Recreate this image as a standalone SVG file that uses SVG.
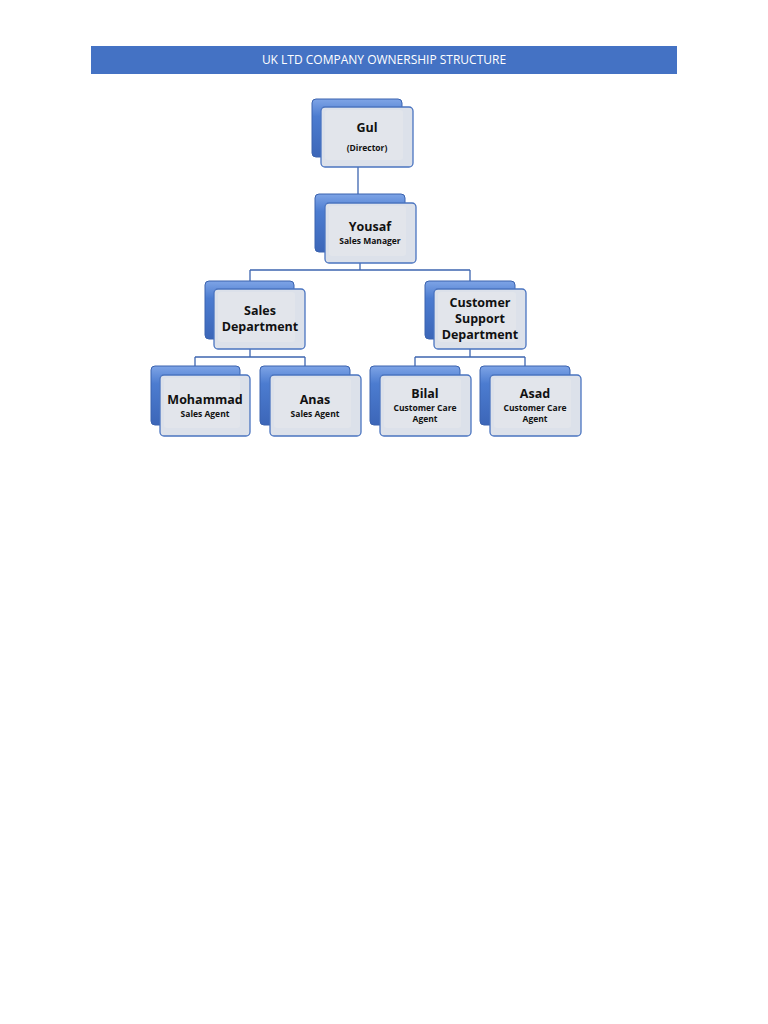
<svg xmlns="http://www.w3.org/2000/svg" width="768" height="1024" viewBox="0 0 768 1024">
<defs>
<linearGradient id="bk" x1="0" y1="0" x2="0" y2="1"><stop offset="0" stop-color="#7EA4E6"/><stop offset="0.3" stop-color="#4C7CD0"/><stop offset="1" stop-color="#3C66B8"/></linearGradient>
<style>
.bk{fill:url(#bk);stroke:#3A62AE;stroke-width:1}
.fr{fill:#DCE1EA;stroke:#4A74C0;stroke-width:1.3}
.in{fill:#E2E5EB;stroke:none}
.cn{fill:none;stroke:#3E66B0;stroke-width:1.3}
.t{font-family:"Open Sans","Liberation Sans",sans-serif;font-weight:bold;fill:#111;text-anchor:middle}
.n{font-size:12.5px}.s{font-size:8.5px}
</style>
</defs>
<rect width="768" height="1024" fill="#fff"/>
<rect x="91" y="46" width="586" height="28" fill="#4472C4"/>
<text x="384" y="64" font-family="'Open Sans','Liberation Sans',sans-serif" font-size="12" fill="#fff" text-anchor="middle">UK LTD COMPANY OWNERSHIP STRUCTURE</text>
<g id="connectors">
<path class="cn" d="M358 167V203M360 263V270M250 270H470M250 270V289M470 270V289M250 349V357M195 357H305M195 357V375M305 357V375M470 349V357M415 357H525M415 357V375M525 357V375"/>
</g>
<g id="gul"><rect class="bk" x="312" y="99" width="90" height="58" rx="4"/><rect class="fr" x="321" y="107" width="92" height="60" rx="4"/><rect class="in" x="325" y="110" width="78" height="50" rx="3"/><text class="t n" x="367" y="132">Gul</text><text class="t s" x="367" y="151">(Director)</text></g>
<g id="yousaf"><rect class="bk" x="315" y="194" width="90" height="58" rx="4"/><rect class="fr" x="325" y="203" width="91" height="60" rx="4"/><rect class="in" x="329" y="206" width="77" height="50" rx="3"/><text class="t n" x="370" y="231">Yousaf</text><text class="t s" x="370" y="244">Sales Manager</text></g>
<g id="sales"><rect class="bk" x="205" y="281" width="89" height="58" rx="4"/><rect class="fr" x="214" y="289" width="91" height="60" rx="4"/><rect class="in" x="218" y="292" width="77" height="50" rx="3"/><text class="t n" x="260" y="315">Sales</text><text class="t n" x="260" y="331">Department</text></g>
<g id="support"><rect class="bk" x="425" y="281" width="90" height="58" rx="4"/><rect class="fr" x="434" y="289" width="92" height="60" rx="4"/><rect class="in" x="438" y="292" width="78" height="50" rx="3"/><text class="t n" x="480" y="307">Customer</text><text class="t n" x="480" y="323">Support</text><text class="t n" x="480" y="339">Department</text></g>
<g id="mohammad"><rect class="bk" x="151" y="366" width="89" height="59" rx="4"/><rect class="fr" x="160" y="375" width="90" height="61" rx="4"/><rect class="in" x="164" y="378" width="76" height="50" rx="3"/><text class="t n" x="205" y="404">Mohammad</text><text class="t s" x="205" y="417">Sales Agent</text></g>
<g id="anas"><rect class="bk" x="260" y="366" width="90" height="59" rx="4"/><rect class="fr" x="270" y="375" width="91" height="61" rx="4"/><rect class="in" x="274" y="378" width="77" height="50" rx="3"/><text class="t n" x="315" y="404">Anas</text><text class="t s" x="315" y="417">Sales Agent</text></g>
<g id="bilal"><rect class="bk" x="370" y="366" width="90" height="59" rx="4"/><rect class="fr" x="380" y="375" width="91" height="61" rx="4"/><rect class="in" x="384" y="378" width="77" height="50" rx="3"/><text class="t n" x="425" y="398">Bilal</text><text class="t s" x="425" y="411">Customer Care</text><text class="t s" x="425" y="422">Agent</text></g>
<g id="asad"><rect class="bk" x="480" y="366" width="90" height="59" rx="4"/><rect class="fr" x="490" y="375" width="91" height="61" rx="4"/><rect class="in" x="494" y="378" width="77" height="50" rx="3"/><text class="t n" x="535" y="398">Asad</text><text class="t s" x="535" y="411">Customer Care</text><text class="t s" x="535" y="422">Agent</text></g>
</svg>
